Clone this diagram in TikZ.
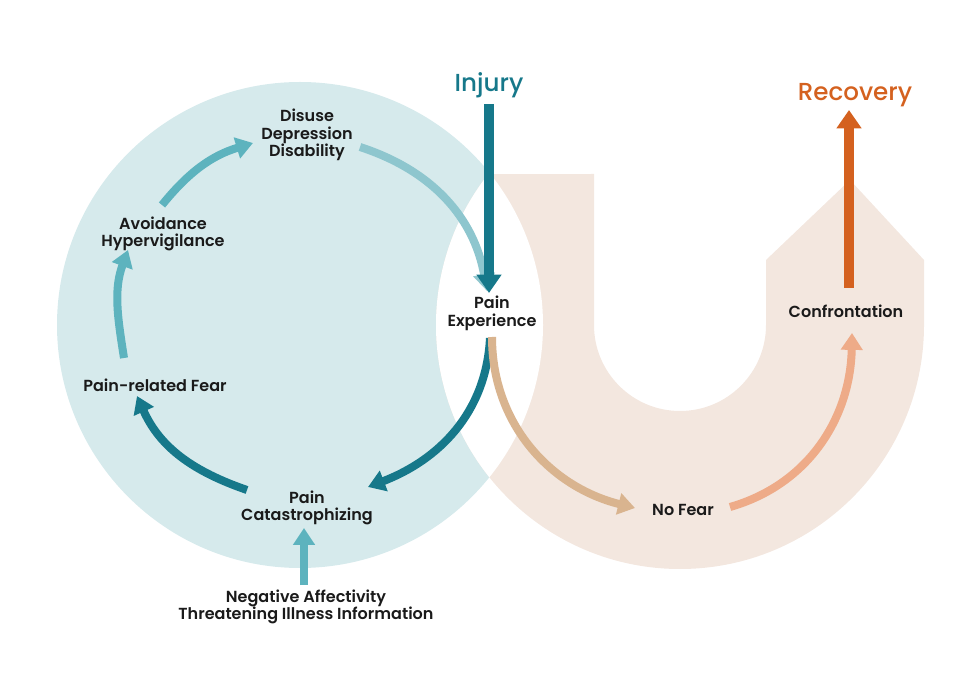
\documentclass[tikz,border=0pt]{standalone}
\usepackage{fontspec}
\setmainfont{Poppins}[UprightFont={* SemiBold}]
\newfontfamily\headfont{Poppins}[UprightFont={* Medium}]
\usetikzlibrary{arrows.meta,positioning}

\definecolor{bluefill}{HTML}{D6EAEC}
\definecolor{beigefill}{HTML}{F3E7DF}
\definecolor{darkteal}{HTML}{16788A}
\definecolor{midteal}{HTML}{5DB3BE}
\definecolor{lightteal}{HTML}{8EC6CE}
\definecolor{rust}{HTML}{D4611F}
\definecolor{tan}{HTML}{D9B48F}
\definecolor{salmon}{HTML}{EEAB88}
\definecolor{txt}{HTML}{1A1A1A}

% U shaped band on the right
\newcommand{\beigeU}{(594,-174) -- (594,-325) arc[start angle=180, end angle=360, radius=86]
  -- (766,-260) -- (850,-180) -- (924,-260) -- (924,-325)
  arc[start angle=0, end angle=-218.2, radius=244] -- cycle}

\begin{document}
\begin{tikzpicture}[
  x=0.025cm, y=0.025cm, >={Triangle[width=15pt,length=12pt]},
  lbl/.style={align=center, font=\fontsize{11.4}{12.6}\selectfont, text=txt, inner sep=1pt},
  big/.style={font=\headfont\fontsize{17.5}{20}\selectfont, inner sep=1pt},
  flow/.style={->, line width=5.7pt},
  node distance=4mm,
]
\useasboundingbox (0,0) rectangle (980,-688);

% background shapes
\fill[bluefill] (300,-325) circle[radius=243];
\fill[beigefill] \beigeU;
\begin{scope}
  \clip (300,-325) circle[radius=243];
  \fill[white] \beigeU;
\end{scope}

\node[lbl] (pexp) at (492,-313) {Pain\\Experience};
\node[lbl] (disuse) at (307,-135) {Disuse\\Depression\\Disability};
\node[lbl] (avoid) at (163,-234) {Avoidance\\Hypervigilance};
\node[lbl] (fear) at (155,-385) {Pain-related Fear};
\node[lbl] (catas) at (307,-508) {Pain\\Catastrophizing};
\node[lbl] (negaff) at (306,-607) {Negative Affectivity\\Threatening Illness Information};
\node[lbl] (nofear) at (683,-510) {No Fear};
\node[lbl] (confr) at (846,-311) {Confrontation};
\node[big, text=darkteal] (injury) at (489,-85) {Injury};
\node[big, text=rust] (recov) at (855,-95) {Recovery};

% avoidance cycle
\draw[flow, lightteal] ([shift={(53,-12)}]disuse.center) to[out=-18, in=100]
  ([shift={(-5,22)}]pexp.center);
\draw[flow, darkteal, line width=7pt, >={Triangle[width=17pt,length=13pt]}]
  ([shift={(0,-19)}]injury.center) -- ([shift={(-3,20)}]pexp.center);
\draw[flow, darkteal] ([shift={(-2,-25)}]pexp.center) to[out=-93, in=21]
  ([shift={(61,21)}]catas.center);
\draw[flow, darkteal] ([shift={(-60,18)}]catas.center) to[out=161, in=-66]
  ([shift={(-18,-11)}]fear.center);
\draw[flow, midteal] ([shift={(-31,27)}]fear.center) to[out=99, in=-110]
  ([shift={(-35,-16)}]avoid.center);
\draw[flow, midteal] ([shift={(-1,29)}]avoid.center) to[out=51, in=-163]
  ([shift={(-54,-8)}]disuse.center);
\draw[flow, midteal] ([shift={(-2,22)}]negaff.center) -- ([shift={(-3,-20)}]catas.center);

% recovery path
\draw[flow, tan] ([shift={(0,-24)}]pexp.center) to[out=-90, in=166]
  ([shift={(-48,2)}]nofear.center);
\draw[flow, salmon] ([shift={(47,3)}]nofear.center) to[out=16, in=-91]
  ([shift={(6,-22)}]confr.center);
\draw[flow, rust, line width=7pt, >={Triangle[width=17pt,length=13pt]}]
  ([shift={(3,23)}]confr.center) -- ([shift={(-6,-15)}]recov.center);
\end{tikzpicture}
\end{document}
